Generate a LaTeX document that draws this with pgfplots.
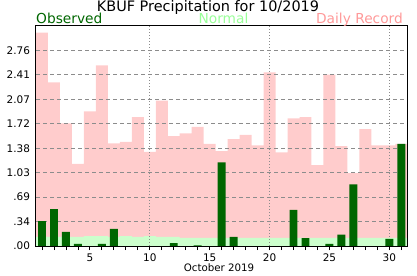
\documentclass[border=0pt]{standalone}
\usepackage{pgfplots}
\pgfplotsset{compat=1.18}
\usepackage{pgfplotstable}
\usepackage{fontspec}
\setmainfont{DejaVu Sans}
\definecolor{recpink}{HTML}{FFCCCC}
\definecolor{normgreen}{HTML}{CCFFCC}
\definecolor{obsgreen}{HTML}{006600}
\definecolor{normlabel}{HTML}{99FF99}
\definecolor{reclabel}{HTML}{FF9999}
\definecolor{gridgray}{HTML}{8C8C8C}

\pgfplotstableread{
day rec norm obs
1 3.01 0.13 0.35
2 2.31 0.13 0.52
3 1.73 0.13 0.20
4 1.16 0.13 0.03
5 1.90 0.14 0
6 2.55 0.14 0.03
7 1.45 0.13 0.24
8 1.47 0.14 0
9 1.82 0.13 0
10 1.33 0.14 0
11 2.05 0.13 0
12 1.55 0.13 0.04
13 1.59 0.115 0
14 1.68 0.115 0.01
15 1.44 0.115 0
16 1.34 0.115 1.18
17 1.51 0.115 0.13
18 1.57 0.115 0
19 1.42 0.115 0
20 2.45 0.115 0
21 1.32 0.115 0
22 1.80 0.115 0.51
23 1.82 0.115 0.11
24 1.14 0.115 0
25 2.42 0.115 0.03
26 1.41 0.115 0.16
27 1.03 0.115 0.87
28 1.65 0.115 0
29 1.42 0.115 0
30 1.42 0.115 0.10
31 1.44 0.115 1.44
}\data

\pgfplotsset{base/.style={
  at={(36bp,30bp)}, anchor=south west, scale only axis,
  width=371.3bp, height=220bp,
  xmin=0.5, xmax=31.5, ymin=0, ymax=3.105}}

\begin{document}
\begin{tikzpicture}
\path[use as bounding box] (0bp,0bp) rectangle (417bp,276bp);
\begin{axis}[base, hide axis]
\addplot[ybar, bar width=1, fill=recpink, draw=none] table[x=day,y=rec]{\data};
\addplot[ybar, bar width=1, fill=normgreen, draw=none] table[x=day,y=norm]{\data};
\end{axis}
\begin{axis}[base,
  axis line style={line width=1bp, black},
  /pgf/number format/assume math mode=true,
  tick label style={font=\fontsize{10.5}{12}\selectfont, text=black},
  ytick={0,0.345,0.69,1.035,1.38,1.725,2.07,2.415,2.76},
  yticklabels={.00,.34,.69,1.03,1.38,1.72,2.07,2.41,2.76},
  ytick style={draw=none},
  yticklabel style={xshift=-2.5bp},
  ymajorgrids,
  major grid style={gridgray, line width=0.9bp, dash pattern=on 4bp off 3bp},
  xtick={5,10,15,20,25,30},
  xticklabels={5,10,15,20,25,30},
  minor xtick={1,2,...,31},
  xtick pos=bottom,
  xtick align=outside,
  major tick length=4bp, minor tick length=4bp,
  x tick style={black, line width=0.8bp},
  extra x ticks={10,20,30},
  extra x tick labels={},
  extra x tick style={xmajorgrids=true, major tick length=0pt,
     major grid style={gridgray, line width=0.9bp, dash pattern=on 1bp off 2bp}},
]
\addplot[ybar, bar width=0.66, fill=obsgreen, draw=none] table[x=day,y=obs]{\data};
\end{axis}
\node[anchor=base, inner sep=0pt] at (208bp,264.5bp) {\fontsize{14.5}{17}\selectfont KBUF Precipitation for 10/2019};
\node[anchor=base west, inner sep=0pt, text=obsgreen] at (36bp,252bp) {\fontsize{13.8}{16}\selectfont Observed};
\node[anchor=base, inner sep=0pt, text=normlabel] at (223.5bp,252bp) {\fontsize{13.8}{16}\selectfont Normal};
\node[anchor=base east, inner sep=0pt, text=reclabel] at (403bp,252bp) {\fontsize{13.8}{16}\selectfont Daily Record};
\node[anchor=base, inner sep=0pt] at (219bp,5bp) {\fontsize{10.3}{12}\selectfont October 2019};
\end{tikzpicture}
\end{document}
